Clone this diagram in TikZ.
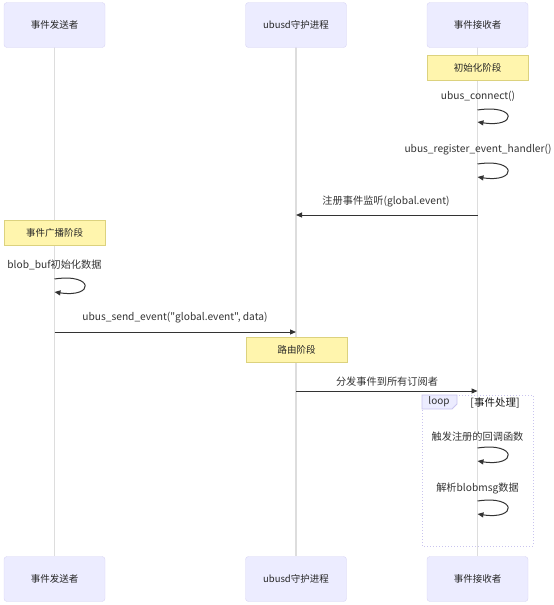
\documentclass[tikz,border=0pt]{standalone}
\usepackage{fontspec}
\setmainfont{Noto Sans CJK SC}[Ligatures=TeXOff]
\usetikzlibrary{arrows.meta}
\definecolor{actfill}{HTML}{ECECFF}
\definecolor{actdraw}{HTML}{D8D4F4}
\definecolor{notefill}{HTML}{FFF5AD}
\definecolor{notedraw}{HTML}{DCD27E}
\definecolor{lifec}{HTML}{DDDDDD}
\definecolor{msgc}{HTML}{333333}
\definecolor{loopc}{HTML}{C9C4EE}
\begin{document}
\begin{tikzpicture}[x=1pt,y=-1pt,
  actor/.style={draw=actdraw, fill=actfill, rounded corners=3pt, minimum width=101pt, minimum height=45pt, inner sep=0pt, font=\fontsize{9.5}{11}\selectfont, text=black!85},
  note/.style={draw=notedraw, fill=notefill, line width=0.8pt, minimum width=101pt, minimum height=25pt, inner sep=0pt, font=\fontsize{9.5}{11}\selectfont, text=black!85},
  lifeline/.style={draw=lifec, line width=1.2pt},
  msg/.style={draw=msgc, line width=1pt, -{Triangle[length=6pt,width=5pt]}},
  selfmsg/.style={draw=msgc, line width=1pt, -{Triangle[length=6pt,width=5pt]}},
  lbl/.style={font=\fontsize{10.2}{12}\selectfont, text=msgc, inner sep=0pt},
  loopbox/.style={draw=loopc, line width=1pt, dotted},
  looptab/.style={draw=loopc, fill=actfill, line width=0.8pt},
]
\useasboundingbox (0,0) rectangle (554,605);

% lifelines
\coordinate (sT) at (54.5,47);  \coordinate (sB) at (54.5,556);
\coordinate (uT) at (296,47);   \coordinate (uB) at (296,556);
\coordinate (rT) at (477.5,47); \coordinate (rB) at (477.5,556);
\draw[lifeline] (sT) -- (sB);
\draw[lifeline] (uT) -- (uB);
\draw[lifeline] (rT) -- (rB);

% actors
\node[actor] (sendT) at (54.5,25) {事件发送者};
\node[actor] (ubusT) at (296,25) {ubusd守护进程};
\node[actor] (recvT) at (477.5,25) {事件接收者};
\node[actor] (sendB) at (54.5,579) {事件发送者};
\node[actor] (ubusB) at (296,579) {ubusd守护进程};
\node[actor] (recvB) at (477.5,579) {事件接收者};

% notes
\node[note] (n1) at (477.5,68) {初始化阶段};
\node[note] (n2) at (54.5,233) {事件广播阶段};
\node[note] (n3) at (296.5,349.5) {路由阶段};

% loop frame
\draw[loopbox] (422,395) rectangle (533,546);
\draw[looptab] (422,395) -- (457,395) -- (457,404) -- (452,409) -- (422,409) -- cycle;
\node[font=\fontsize{10}{12}\selectfont, text=msgc, inner sep=0pt] (looplbl) at (439,402) {loop};
\node[font=\fontsize{10.5}{12}\selectfont, text=black!90, inner sep=0pt] (loopcond) at (495,403) {[事件处理]};

% self message 1
\node[lbl] (m1) at (478,96) {ubus\_connect()};
\coordinate (m1a) at (477.5,110); \coordinate (m1b) at (477.5,122);
\draw[selfmsg] (m1a) .. controls +(40,-6) and +(40,6) .. (m1b);

% self message 2
\node[lbl] (m2) at (478,150) {ubus\_register\_event\_handler()};
\coordinate (m2a) at (477.5,164); \coordinate (m2b) at (477.5,177);
\draw[selfmsg] (m2a) .. controls +(40,-6) and +(40,6) .. (m2b);

% message 3
\node[lbl] (m3) at (386,201) {注册事件监听(global.event)};
\coordinate (m3a) at (477.5,215); \coordinate (m3b) at (296,215);
\draw[msg] (m3a) -- (m3b);

% self message 4
\node[lbl] (m4) at (54.5,265) {blob\_buf初始化数据};
\coordinate (m4a) at (54.5,279); \coordinate (m4b) at (54.5,292);
\draw[selfmsg] (m4a) .. controls +(40,-6) and +(40,6) .. (m4b);

% message 5
\node[lbl] (m5) at (175,318) {ubus\_send\_event("global.event", data)};
\coordinate (m5a) at (54.5,332); \coordinate (m5b) at (296,332);
\draw[msg] (m5a) -- (m5b);

% message 6
\node[lbl] (m6) at (387,382) {分发事件到所有订阅者};
\coordinate (m6a) at (296,391); \coordinate (m6b) at (477.5,391);
\draw[msg] (m6a) -- (m6b);

% self message 7
\node[lbl] (m7) at (477.5,437) {触发注册的回调函数};
\coordinate (m7a) at (477.5,448); \coordinate (m7b) at (477.5,461);
\draw[selfmsg] (m7a) .. controls +(40,-6) and +(40,6) .. (m7b);

% self message 8
\node[lbl] (m8) at (477.5,488) {解析blobmsg数据};
\coordinate (m8a) at (477.5,501); \coordinate (m8b) at (477.5,514);
\draw[selfmsg] (m8a) .. controls +(40,-6) and +(40,6) .. (m8b);
\end{tikzpicture}
\end{document}
